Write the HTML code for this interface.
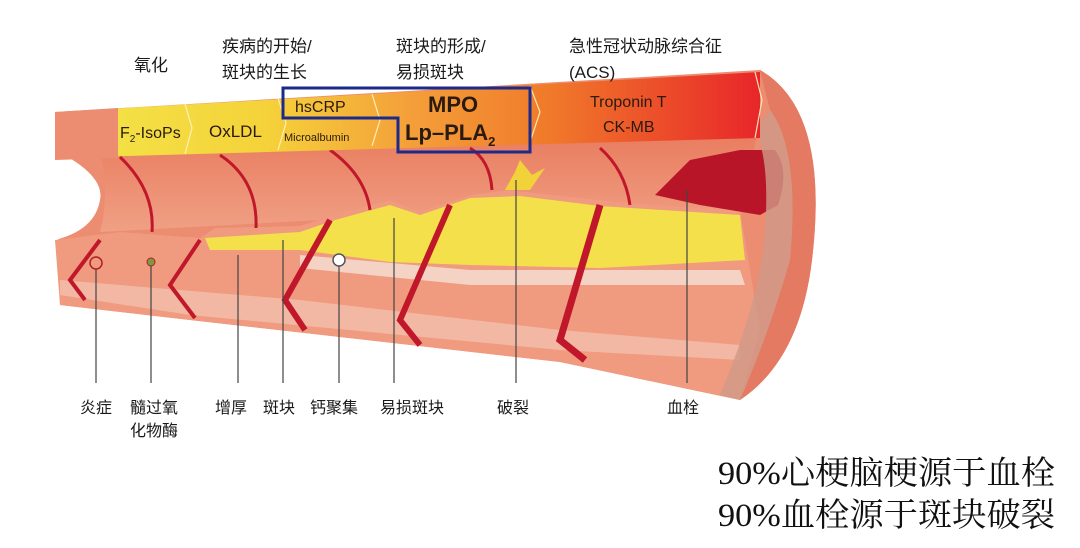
<!DOCTYPE html>
<html><head><meta charset="utf-8"><style>
html,body{margin:0;padding:0;background:#fff;width:1080px;height:548px;overflow:hidden}
svg{display:block}
.cj{font-family:"Liberation Sans","Noto Sans CJK SC",sans-serif;fill:#1a1a1a}
.lt{font-family:"Liberation Sans",sans-serif;fill:#2a1a10}
</style></head><body>
<svg width="1080" height="548" viewBox="0 0 1080 548" xmlns="http://www.w3.org/2000/svg">
<defs>
<linearGradient id="band" x1="0" x2="1" y1="0" y2="0">
<stop offset="0" stop-color="#f2e64a"/><stop offset="0.3" stop-color="#f5d23a"/>
<stop offset="0.5" stop-color="#f4a03a"/><stop offset="0.7" stop-color="#f07a2a"/>
<stop offset="1" stop-color="#e8262a"/></linearGradient>
<linearGradient id="wall" x1="0" x2="0" y1="0" y2="1">
<stop offset="0" stop-color="#e8775a"/><stop offset="1" stop-color="#f0a084"/></linearGradient>
</defs>
<path d="M55 112 L760 70 Q830 110 812 260 Q800 360 740 400 L560 362 L190 320 L60 305 Z" fill="#ec8c70"/>
<path d="M55 150 Q105 175 100 200 Q95 230 55 240 Z" fill="#fff"/>
<path d="M100 150 L760 120 L740 215 L600 205 L100 232 Q110 195 100 150Z" fill="url(#wall)"/>
<path d="M55 240 L120 232 L200 238 L215 228 L300 226 L335 215 L390 200 L420 212 L470 195 L510 190 L560 196 L600 200 L650 205 L740 210 L760 330 L740 400 L560 362 L190 320 L60 305 Z" fill="#f09a80"/>
<path d="M205 238 L300 232 L335 220 L390 205 L420 215 L470 198 L520 196 L600 206 L740 215 L745 260 L600 268 L470 265 L390 262 L300 250 L210 250 Z" fill="#f3e04a"/>
<path d="M300 255 L470 270 L740 270 L745 285 L470 285 L300 268 Z" fill="#f4d2c4"/>
<path d="M60 280 L300 300 L560 330 L740 345 L740 360 L560 350 L190 315 L60 295Z" fill="#f2b8a4"/>
<path d="M655 195 L690 160 L740 150 L775 150 Q790 170 778 205 L760 215 L700 205 Z" fill="#b81628"/>
<path d="M760 70 Q830 110 812 260 Q800 360 740 400 Q770 330 790 260 Q800 150 770 110 Z" fill="#e47a62"/>
<path d="M770 110 Q800 150 790 260 Q770 330 740 400 L720 395 Q760 300 765 230 Q770 160 755 130 Z" fill="#cf9a88" opacity="0.8"/>
<path d="M505 190 L515 172 L520 160 L532 175 L545 168 L530 190 Z" fill="#f2d23a"/>
<g stroke="#c0182a" stroke-width="3" fill="none">
<path d="M120 157 Q155 190 152 232"/>
<path d="M220 155 Q258 180 256 228"/>
<path d="M330 150 Q365 175 370 210"/>
<path d="M470 148 Q490 160 492 190"/>
<path d="M600 148 Q625 170 630 205"/>
<path d="M100 240 L70 280 L85 300" stroke-width="4"/>
<path d="M200 240 L170 285 L195 318" stroke-width="4"/>
<path d="M330 220 L285 300 L305 330" stroke-width="6"/>
<path d="M450 205 L400 320 L420 345" stroke-width="6"/>
<path d="M600 205 L560 340 L585 360" stroke-width="7"/>
</g>
<path d="M55 112 L760 72 L760 138 L55 158 Z" fill="url(#band)"/>
<path d="M55 112 L118 108 L118 158 L55 160 Z" fill="#ec8c70"/>
<g stroke="#fff3c0" stroke-width="1.2" fill="none" opacity="0.9">
<path d="M185 104 L192 128 L185 154"/><path d="M278 98 L286 123 L278 150"/>
<path d="M372 94 L380 120 L372 146"/><path d="M530 86 L540 112 L530 142"/>
<path d="M755 72 L762 100 L755 138"/>
</g>
<path d="M283 88 L530 88 L530 152 L398 152 L398 118 L283 118 Z" fill="none" stroke="#1c2a8a" stroke-width="3"/>
<text x="120" y="138" class="lt" font-size="16">F<tspan font-size="10" dy="4">2</tspan><tspan dy="-4">-IsoPs</tspan></text>
<text x="209" y="137" class="lt" font-size="17">OxLDL</text>
<text x="295" y="112" class="lt" font-size="16">hsCRP</text>
<text x="284" y="141" class="lt" font-size="11">Microalbumin</text>
<text x="428" y="112" class="lt" font-size="22" font-weight="bold">MPO</text>
<text x="405" y="140" class="lt" font-size="22" font-weight="bold">Lp–PLA<tspan font-size="13" dy="6">2</tspan></text>
<text x="590" y="107" class="lt" font-size="16">Troponin T</text>
<text x="603" y="132" class="lt" font-size="16">CK-MB</text>
<circle cx="96" cy="263" r="6" fill="none" stroke="#b02020" stroke-width="1.5"/>
<circle cx="151" cy="262" r="4" fill="#7a9a40" stroke="#b02020" stroke-width="1"/>
<circle cx="339" cy="260" r="6" fill="#fff" stroke="#555" stroke-width="1.5"/>
<g stroke="#444" stroke-width="1.2">
<line x1="96" y1="269" x2="96" y2="383"/><line x1="151" y1="266" x2="151" y2="383"/>
<line x1="238" y1="255" x2="238" y2="383"/><line x1="283" y1="240" x2="283" y2="383"/>
<line x1="339" y1="266" x2="339" y2="383"/><line x1="394" y1="218" x2="394" y2="383"/>
<line x1="516" y1="180" x2="516" y2="383"/><line x1="687" y1="190" x2="687" y2="383"/>
</g>
<g class="cj" font-size="17">
<text x="134" y="71">氧化</text>
<text x="222" y="52">疾病的开始/</text><text x="222" y="78">斑块的生长</text>
<text x="396" y="52">斑块的形成/</text><text x="396" y="78">易损斑块</text>
<text x="569" y="52">急性冠状动脉综合征</text><text x="569" y="78">(ACS)</text>
</g>
<g class="cj" font-size="16">
<text x="80" y="413">炎症</text>
<text x="130" y="413">髓过氧</text><text x="130" y="436">化物酶</text>
<text x="215" y="413">增厚</text><text x="263" y="413">斑块</text>
<text x="310" y="413">钙聚集</text><text x="380" y="413">易损斑块</text>
<text x="497" y="413">破裂</text><text x="667" y="413">血栓</text>
</g>
<g font-family="'Liberation Serif','Noto Serif CJK SC',serif" font-size="33" fill="#111">
<text x="718" y="484" textLength="337" lengthAdjust="spacingAndGlyphs">90%心梗脑梗源于血栓</text>
<text x="718" y="526" textLength="337" lengthAdjust="spacingAndGlyphs">90%血栓源于斑块破裂</text>
</g>
</svg>
</body></html>
